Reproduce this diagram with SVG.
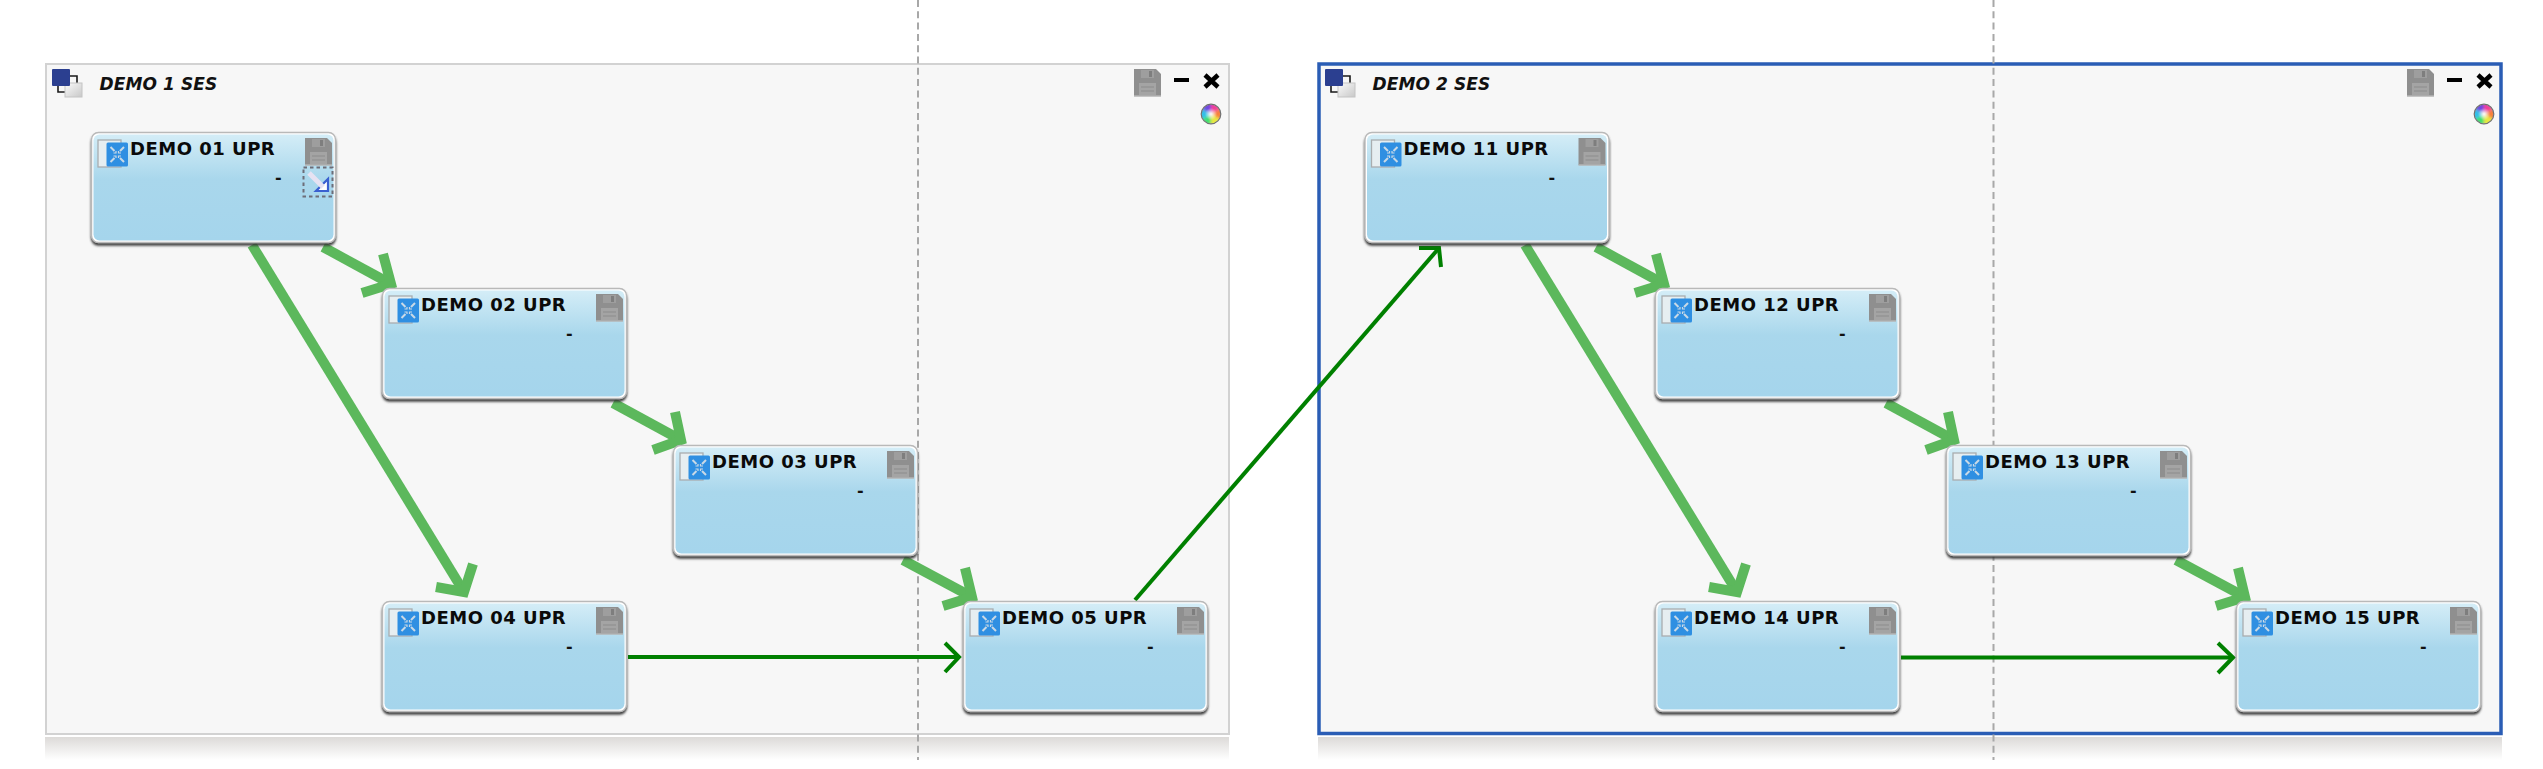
<svg xmlns="http://www.w3.org/2000/svg" width="2543" height="769" viewBox="0 0 2543 769">
<style>
.panel{fill:#f7f7f7}
.p1{stroke:#d2d2d2;stroke-width:2}
.p2{stroke:#2a5db5;stroke-width:3.5}
.guide{stroke:#a8a8a8;stroke-width:2;stroke-dasharray:7 4.3;fill:none}
.thick{fill:none;stroke:#5cb85c;stroke-width:10;stroke-linejoin:miter;stroke-miterlimit:6}
.thin{fill:none;stroke:#008000;stroke-width:4;stroke-linejoin:miter}
.ttl{font-family:"DejaVu Sans",sans-serif;font-weight:bold;font-style:italic;font-size:17px;letter-spacing:.1px;fill:#111}
.lbl{font-family:"DejaVu Sans",sans-serif;font-weight:bold;font-size:18px;letter-spacing:.5px;fill:#0a0a0a}
.sub{font-family:"DejaVu Sans",sans-serif;font-weight:bold;font-size:16px;fill:#111}
</style>
<defs>
<linearGradient id="nodeGrad" x1="0" y1="0" x2="0" y2="1"><stop offset="0" stop-color="#d4edf7"/><stop offset=".42" stop-color="#a9d7ec"/><stop offset="1" stop-color="#a5d5ec"/></linearGradient>
<linearGradient id="shade" x1="0" y1="0" x2="0" y2="1"><stop offset="0" stop-color="#dcdad8"/><stop offset="1" stop-color="#ffffff"/></linearGradient>
<linearGradient id="grayBox" x1="0" y1="0" x2="1" y2="1"><stop offset="0" stop-color="#fbfbfb"/><stop offset="1" stop-color="#c8c8c8"/></linearGradient>
<filter id="drop" x="-5%" y="-5%" width="110%" height="115%"><feDropShadow dx="0" dy="2.500" stdDeviation="1.200" flood-color="#333" flood-opacity=".95"/></filter>
<filter id="soft" x="-20%" y="-20%" width="140%" height="140%"><feGaussianBlur stdDeviation="1.6"/></filter>
<radialGradient id="wheelC"><stop offset="0" stop-color="#fff" stop-opacity=".95"/><stop offset=".65" stop-color="#fff" stop-opacity="0"/></radialGradient>
<clipPath id="wheelClip"><circle r="9.5"/></clipPath>
<g id="save">
<path d="M0 0H22L27 5V27H0Z" fill="#8f8f8f"/>
<rect x="7" y="1" width="13" height="8" fill="#9e9e9e"/>
<rect x="15" y="2" width="3" height="6" fill="#7e7e7e"/>
<rect x="5" y="14" width="17" height="12" fill="#a4a4a4"/>
<path d="M7 18H20M7 22H20" stroke="#8b8b8b" stroke-width="1.2"/>
<path d="M0 27H27" stroke="#b5b5b5" stroke-width="1.5"/>
</g>
<g id="wheel">
<g clip-path="url(#wheelClip)"><g filter="url(#soft)">
<path d="M0 0L0 -13L11.3 -6.5Z" fill="#f0409a"/>
<path d="M0 0L11.3 -6.5L11.3 6.5Z" fill="#f7803a"/>
<path d="M0 0L11.3 6.5L0 13Z" fill="#e8e840"/>
<path d="M0 0L0 13L-11.3 6.5Z" fill="#40e070"/>
<path d="M0 0L-11.3 6.5L-11.3 -6.5Z" fill="#30c0e8"/>
<path d="M0 0L-11.3 -6.5L0 -13Z" fill="#7048e0"/>
</g></g>
<circle r="9.5" fill="url(#wheelC)"/>
<circle r="9.8" fill="none" stroke="#6f6f6f" stroke-width="1.2"/>
</g>
<g id="winIcon">
<path d="M70 76H77V83M58 86V92H65" transform="translate(-52 -69)" fill="none" stroke="#1a1a1a" stroke-width="1.6"/>
<rect x="13" y="14" width="17" height="14" fill="url(#grayBox)" stroke="#c4c4c4"/>
<rect x="0" y="0" width="18" height="17" rx="1" fill="#2b3f90"/>
</g>
<g id="nodeIcon">
<rect x="6" y="7" width="23" height="27" fill="#e6eef1" stroke="#a9adaf" stroke-width="1.3"/>
<rect x="14.500" y="9.500" width="21.500" height="24" rx="1.500" fill="#2f8fe2"/>
<path d="M18.500 14L22.500 18M32 14L28 18M18.500 29L22.500 25M32 29L28 25" stroke="#c9d9e6" stroke-width="2"/>
<path d="M21.500 20H24V18M29 20H26.500V18M21.500 23H24V25M29 23H26.500V25" stroke="#c9d9e6" stroke-width="1.2" fill="none"/>
</g>
<g id="nodeBg">
<rect x="-.5" y="-.5" width="244" height="110" rx="7" fill="#fff" stroke="#b9b9b9" stroke-width="1.4" filter="url(#drop)"/>
<rect x="1.500" y="1.500" width="240" height="106" rx="6" fill="url(#nodeGrad)"/>
</g>
</defs>

<rect id="shade-1" x="45" y="737" width="1184" height="23" fill="url(#shade)"/>
<rect id="shade-2" x="1318" y="737" width="1184" height="23" fill="url(#shade)"/>

<g id="panel-1">
<rect class="panel p1" x="46" y="64" width="1183" height="670"/>
<use href="#winIcon" x="52" y="69"/>
<text class="ttl" x="99.500" y="90">DEMO 1 SES</text>
<use href="#save" x="1134" y="69"/>
<path d="M1174 80H1189" stroke="#000" stroke-width="4"/>
<path d="M1205 75L1218 87M1218 75L1205 87" stroke="#000" stroke-width="4.500"/>
<use href="#wheel" x="1211" y="114"/>
</g>
<g id="panel-2">
<rect class="panel p2" x="1319" y="64" width="1182" height="669.500"/>
<use href="#winIcon" x="1325" y="69"/>
<text class="ttl" x="1372.500" y="90">DEMO 2 SES</text>
<use href="#save" x="2407" y="69"/>
<path d="M2447 80H2462" stroke="#000" stroke-width="4"/>
<path d="M2478 75L2491 87M2491 75L2478 87" stroke="#000" stroke-width="4.500"/>
<use href="#wheel" x="2484" y="114"/>
</g>

<g id="guides">
<path class="guide" d="M918 0V760"/>
<path class="guide" d="M1993.500 0V760"/>
</g>

<g id="connectors">
<g id="c-01-02"><path class="thick" d="M323 247L391 284"/><path class="thick" d="M383 254L391 284L362 293"/></g>
<g id="c-02-03"><path class="thick" d="M613 403L681 440"/><path class="thick" d="M675 412L681 440L653 450"/></g>
<g id="c-03-05"><path class="thick" d="M903 560L972 597"/><path class="thick" d="M965 568L972 597L943 606"/></g>
<g id="c-01-04"><path class="thick" d="M252 245L464 592"/><path class="thick" d="M473 564L464 592L436 587"/></g>
<g id="c-04-05"><path class="thin" d="M628 657H959"/><path class="thin" d="M945 643L959 657L945 672"/></g>
<g id="c-05-11"><path class="thin" d="M1135 600L1439 248"/><path class="thin" d="M1419 248L1439 248L1441 267"/></g>
<g id="c-11-12"><path class="thick" d="M1596 247L1664 284"/><path class="thick" d="M1656 254L1664 284L1635 293"/></g>
<g id="c-12-13"><path class="thick" d="M1886 403L1954 440"/><path class="thick" d="M1948 412L1954 440L1926 450"/></g>
<g id="c-13-15"><path class="thick" d="M2176 560L2245 597"/><path class="thick" d="M2238 568L2245 597L2216 606"/></g>
<g id="c-11-14"><path class="thick" d="M1525 245L1737 592"/><path class="thick" d="M1746 564L1737 592L1709 587"/></g>
<g id="c-14-15"><path class="thin" d="M1901 657.500H2233"/><path class="thin" d="M2218 643L2233 657.500L2218 673"/></g>
</g>

<g id="node-01" transform="translate(92 133)"><use href="#nodeBg"/><use href="#nodeIcon"/><text class="lbl" x="38" y="22">DEMO 01 UPR</text><text class="sub" x="183" y="50">-</text><use href="#save" x="213" y="5"/>
<rect x="211.500" y="34.500" width="29" height="29" fill="none" stroke="#6d6d78" stroke-width="2" stroke-dasharray="3.500 3"/>
<path d="M236 46V58H224Z" fill="#fff" stroke="#3a60d0" stroke-width="2.200"/><path d="M217 40L231 54" stroke="#e6e2f2" stroke-width="5"/></g>
<g id="node-02" transform="translate(383 289)"><use href="#nodeBg"/><use href="#nodeIcon"/><text class="lbl" x="38" y="22">DEMO 02 UPR</text><text class="sub" x="183" y="50">-</text><use href="#save" x="213" y="5"/></g>
<g id="node-03" transform="translate(674 446)"><use href="#nodeBg"/><use href="#nodeIcon"/><text class="lbl" x="38" y="22">DEMO 03 UPR</text><text class="sub" x="183" y="50">-</text><use href="#save" x="213" y="5"/></g>
<g id="node-04" transform="translate(383 602)"><use href="#nodeBg"/><use href="#nodeIcon"/><text class="lbl" x="38" y="22">DEMO 04 UPR</text><text class="sub" x="183" y="50">-</text><use href="#save" x="213" y="5"/></g>
<g id="node-05" transform="translate(964 602)"><use href="#nodeBg"/><use href="#nodeIcon"/><text class="lbl" x="38" y="22">DEMO 05 UPR</text><text class="sub" x="183" y="50">-</text><use href="#save" x="213" y="5"/></g>
<g id="node-11" transform="translate(1365.500 133)"><use href="#nodeBg"/><use href="#nodeIcon"/><text class="lbl" x="38" y="22">DEMO 11 UPR</text><text class="sub" x="183" y="50">-</text><use href="#save" x="213" y="5"/></g>
<g id="node-12" transform="translate(1656 289)"><use href="#nodeBg"/><use href="#nodeIcon"/><text class="lbl" x="38" y="22">DEMO 12 UPR</text><text class="sub" x="183" y="50">-</text><use href="#save" x="213" y="5"/></g>
<g id="node-13" transform="translate(1947 446)"><use href="#nodeBg"/><use href="#nodeIcon"/><text class="lbl" x="38" y="22">DEMO 13 UPR</text><text class="sub" x="183" y="50">-</text><use href="#save" x="213" y="5"/></g>
<g id="node-14" transform="translate(1656 602)"><use href="#nodeBg"/><use href="#nodeIcon"/><text class="lbl" x="38" y="22">DEMO 14 UPR</text><text class="sub" x="183" y="50">-</text><use href="#save" x="213" y="5"/></g>
<g id="node-15" transform="translate(2237 602)"><use href="#nodeBg"/><use href="#nodeIcon"/><text class="lbl" x="38" y="22">DEMO 15 UPR</text><text class="sub" x="183" y="50">-</text><use href="#save" x="213" y="5"/></g>
</svg>
